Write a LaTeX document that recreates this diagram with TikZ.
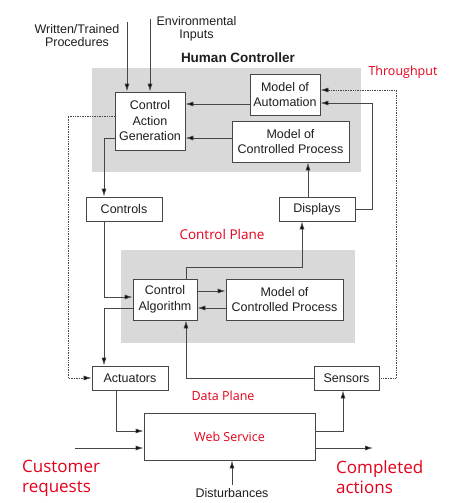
\documentclass[tikz,border=0pt]{standalone}
\usepackage{fontspec}
\setmainfont{Liberation Sans}
\newfontfamily\redfont{Open Sans}
\usetikzlibrary{arrows.meta}
\definecolor{linegray}{RGB}{70,70,70}
\definecolor{textgray}{RGB}{30,30,30}
\definecolor{panelgray}{RGB}{217,217,217}
\definecolor{planered}{RGB}{226,0,26}
\begin{document}
\begin{tikzpicture} [
                x=1pt, y=-1pt,
                block/.style={draw=linegray,line width=0.8pt,fill=white,align=center,inner sep=1pt,
                    text=textgray,font=\fontsize{12.5}{15.5}\selectfont},
                panel/.style={fill=panelgray},
                arr/.style={draw=linegray,line width=0.8pt,-{Latex[length=8pt,width=5pt,fill=black]}},
                dotarr/.style={draw=linegray,densely dotted,line width=0.7pt,-{Latex[length=8pt,width=5pt,fill=black,sep=0pt]}},
                lbl/.style={align=center,text=textgray,font=\fontsize{12.5}{13}\selectfont},
                redlbl/.style={text=planered,font=\redfont\fontsize{12.5}{15}\selectfont},
                biglbl/.style={text=planered,align=left,font=\redfont\fontsize{17}{20}\selectfont},
            ]
            \useasboundingbox (0,0) rectangle (464,503);
            % Gray panels behind the controllers
            \fill[panel] (92,68) rectangle (361,172);
            \fill[panel] (121,250) rectangle (355,343);
            % First we draw the boxes
            \foreach \pos/\name/\bw/\bh/\txt in {
                    {(150,121)/cag/70/58/{Control\\Action\\Generation}},
                    {(285,94.5)/moa/70/41/{Model of\\Automation}},
                    {(290.5,141.5)/mcph/117/41/{Model of\\Controlled Process}},
                    {(124,209)/ctrls/76/24/{Controls}},
                    {(317,209)/disp/76/24/{Displays}},
                    {(165,299.5)/calg/64/41/{Control\\Algorithm}},
                    {(284.5,299.5)/mcpl/117/41/{Model of\\Controlled Process}},
                    {(130,378)/act/76/24/{Actuators}},
                    {(346.5,378)/sens/65/24/{Sensors}},
                    {(229.5,436.5)/ws/171/47/{}}}
                \node[block,minimum width=\bw pt,minimum height=\bh pt] (\name) at \pos {\txt};
            % Texts round the boxes
            \node[lbl] (proc) at (77,35.5) {Written/Trained\\Procedures};
            \node[lbl] (env) at (196.5,28.5) {Environmental\\Inputs};
            \node[lbl,font=\bfseries\fontsize{13.5}{14}\selectfont] (human) at (238,58) {Human Controller};
            \node[lbl] (dist) at (232,493) {Disturbances};
            \node[redlbl] (thru) at (403,72) {Throughput};
            \node[redlbl,font=\redfont\fontsize{13.5}{15}\selectfont] (cplane) at (222,234) {Control Plane};
            \node[redlbl] (dplane) at (223,396) {Data Plane};
            \node[redlbl] (wstext) at (ws) {Web Service};
            \node[biglbl,anchor=north west,inner sep=0pt] (cust) at (22,460) {Customer\\requests};
            \node[biglbl,anchor=north west,inner sep=0pt] (done) at (336,460) {Completed\\actions};
            % Inputs of the human controller
            \draw[arr] (127,22) -- (cag.north -| 127,0);
            \draw[arr] (150,19) -- (cag.north -| 150,0);
            % Connections inside the human controller
            \draw[arr] (moa.west |- 0,104) -- (cag.east |- 0,104);
            \draw[arr] (mcph.west |- 0,138) -- (cag.east |- 0,138);
            \draw[arr] (cag.west |- 0,138) -| (ctrls.north -| 104,0);
            \draw[dotarr] (cag.west |- 0,116) -- (68,116) |- (act.west);
            % Feedback to the human controller
            \draw[arr] (disp.north -| 308,0) -- (mcph.south -| 308,0);
            \draw[arr] (disp.east) -- (372,209) |- (moa.east |- 0,103);
            \draw[dotarr] (sens.east) -- (396,378) |- (moa.east |- 0,90);
            % Automated controller
            \draw[arr] (ctrls.south -| 104,0) |- (calg.west |- 0,297);
            \draw[arr] (calg.west |- 0,308) -| (act.north -| 104,0);
            \draw[arr] (calg.east |- 0,291) -- (mcpl.west |- 0,291);
            \draw[arr] (mcpl.west |- 0,308) -- (calg.east |- 0,308);
            \draw[arr] (calg.north -| 186,0) -- (186,267) -| (disp.south -| 302,0);
            \draw[arr] (sens.west) -| (calg.south -| 186,0);
            % Controlled process
            \draw[arr] (act.south -| 116,0) |- (ws.west |- 0,431);
            \draw[arr] (75,448) -- (ws.west |- 0,448);
            \draw[arr] (ws.east |- 0,448) -- (373,448);
            \draw[arr] (ws.east |- 0,431) -| (sens.south -| 343,0);
            \draw[arr] (dist.north) -- (ws.south -| dist.north);
        \end{tikzpicture}
\end{document}
